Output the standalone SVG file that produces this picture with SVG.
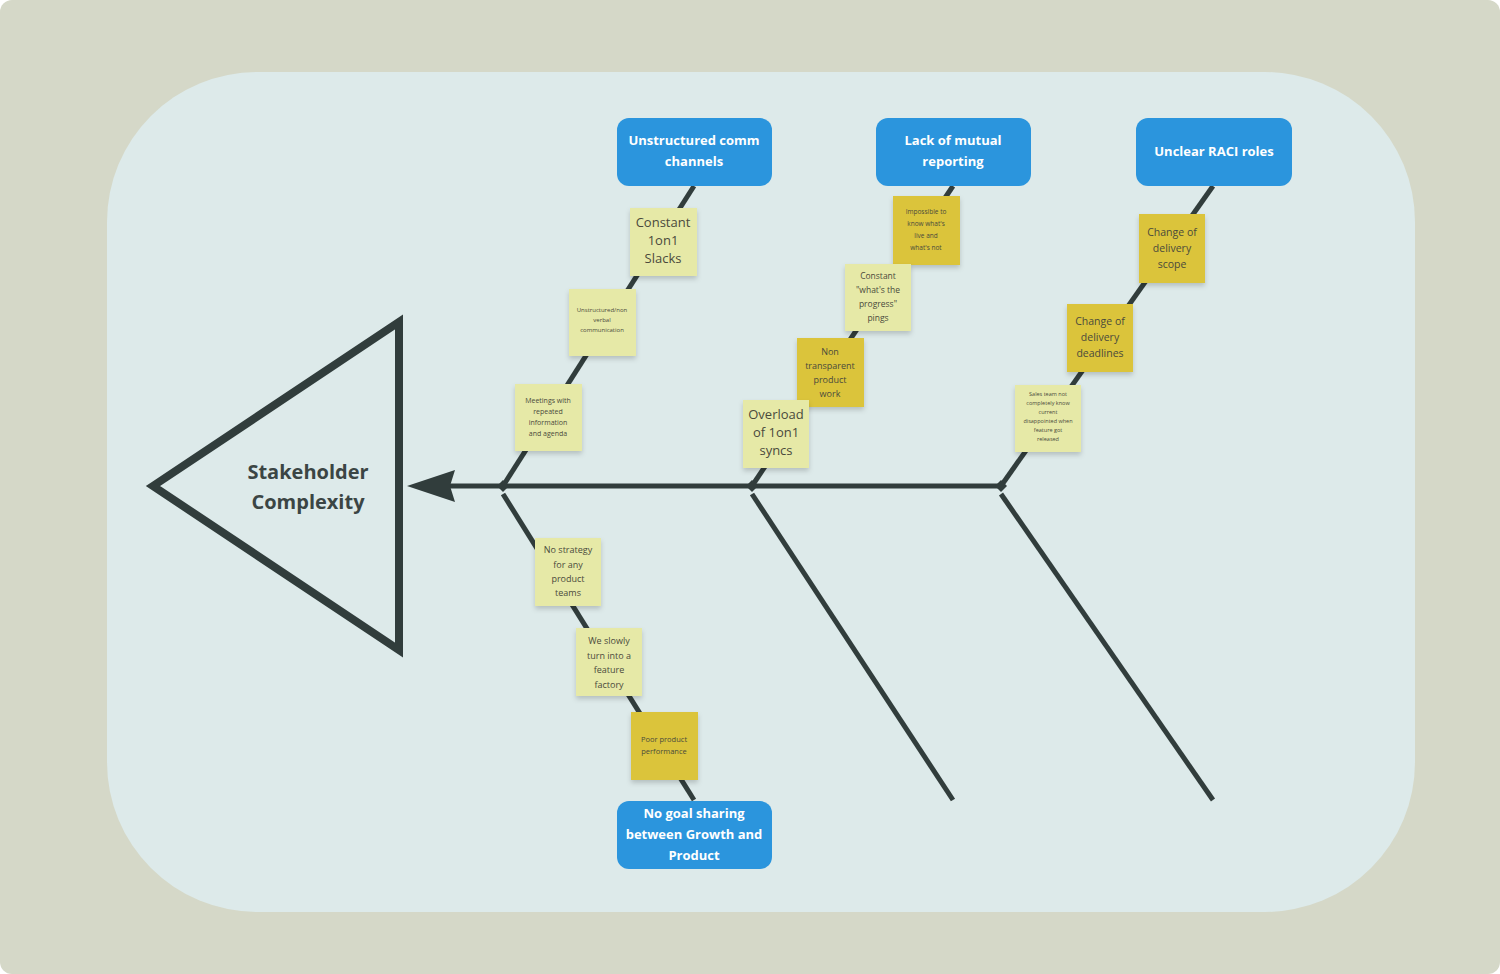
<svg xmlns="http://www.w3.org/2000/svg" width="1500" height="974" viewBox="0 0 1500 974">
<defs>
<filter id="sh" x="-20%" y="-20%" width="140%" height="150%">
<feDropShadow dx="0" dy="3" stdDeviation="2.5" flood-color="#000" flood-opacity="0.18"/>
</filter>
<style>
.bone{stroke:#313d3c;stroke-width:5;fill:none;stroke-linecap:butt}
.cause{fill:#2b95dd}
.ct{fill:#ffffff;font-family:"Open Sans","Liberation Sans",sans-serif;font-weight:bold;font-size:13px;text-anchor:middle;dominant-baseline:central}
.pale{fill:#e6e9a7}
.dark{fill:#dbc43b}
.nt{fill:#4a4a3c;font-family:"Open Sans","Liberation Sans",sans-serif;text-anchor:middle;dominant-baseline:central}
.hd{fill:#3b4544;font-family:"Open Sans","Liberation Sans",sans-serif;font-weight:bold;font-size:20px;text-anchor:middle;dominant-baseline:central}
</style>
</defs>
<rect x="0" y="0" width="1500" height="974" rx="12" fill="#d5d8c8"/>
<rect x="107" y="72" width="1308" height="840" rx="150" fill="#ddeaea"/>

<g id="head">
<polygon points="153,486 399,322 399,650" fill="none" stroke="#313d3c" stroke-width="8" stroke-linejoin="miter"/>
<text class="hd" x="308" y="471">Stakeholder</text>
<text class="hd" x="308" y="501">Complexity</text>
</g>

<g id="connectors">
<line class="bone" x1="450" y1="486" x2="1001" y2="486"/>
<polygon points="407,486 455,470 450,486 455,502" fill="#313d3c"/>
<line class="bone" x1="503" y1="486" x2="694" y2="186"/>
<line class="bone" x1="752" y1="486" x2="953" y2="186"/>
<line class="bone" x1="1001" y1="486" x2="1213" y2="186"/>
<line class="bone" x1="503" y1="494" x2="694" y2="800"/>
<line class="bone" x1="752" y1="494" x2="953" y2="800"/>
<line class="bone" x1="1001" y1="494" x2="1213" y2="800"/>
<polygon points="503,480 509,486 503,492 497,486" fill="#313d3c"/>
<polygon points="752,480 758,486 752,492 746,486" fill="#313d3c"/>
<polygon points="1001,480 1007,486 1001,492 995,486" fill="#313d3c"/>
</g>

<g id="cause-unstructured">
<rect class="cause" x="617" y="118" width="155" height="68" rx="12"/>
<text class="ct" x="694" y="140">Unstructured comm</text>
<text class="ct" x="694" y="161">channels</text>
</g>
<g id="cause-reporting">
<rect class="cause" x="876" y="118" width="155" height="68" rx="12"/>
<text class="ct" x="953" y="140">Lack of mutual</text>
<text class="ct" x="953" y="161">reporting</text>
</g>
<g id="cause-raci">
<rect class="cause" x="1136" y="118" width="156" height="68" rx="12"/>
<text class="ct" x="1214" y="151">Unclear RACI roles</text>
</g>
<g id="cause-goals">
<rect class="cause" x="617" y="801" width="155" height="68" rx="12"/>
<text class="ct" x="694" y="813">No goal sharing</text>
<text class="ct" x="694" y="834">between Growth and</text>
<text class="ct" x="694" y="855">Product</text>
</g>

<g id="note-slacks">
<rect class="pale" x="630" y="208" width="67" height="68" filter="url(#sh)"/>
<text class="nt" font-size="13" x="663" y="222">Constant</text>
<text class="nt" font-size="13" x="663" y="240">1on1</text>
<text class="nt" font-size="13" x="663" y="258">Slacks</text>
</g>
<g id="note-verbal">
<rect class="pale" x="569" y="289" width="67" height="67" filter="url(#sh)"/>
<text class="nt" font-size="6" x="602" y="310">Unstructured/non</text>
<text class="nt" font-size="6" x="602" y="320">verbal</text>
<text class="nt" font-size="6" x="602" y="330">communication</text>
</g>
<g id="note-meetings">
<rect class="pale" x="515" y="384" width="67" height="67" filter="url(#sh)"/>
<text class="nt" font-size="7" x="548" y="400">Meetings with</text>
<text class="nt" font-size="7" x="548" y="411">repeated</text>
<text class="nt" font-size="7" x="548" y="422">information</text>
<text class="nt" font-size="7" x="548" y="433">and agenda</text>
</g>
<g id="note-impossible">
<rect class="dark" x="893" y="196" width="67" height="69" filter="url(#sh)"/>
<text class="nt" font-size="6.5" x="926" y="211">Impossible to</text>
<text class="nt" font-size="6.5" x="926" y="223">know what's</text>
<text class="nt" font-size="6.5" x="926" y="235">live and</text>
<text class="nt" font-size="6.5" x="926" y="247">what's not</text>
</g>
<g id="note-pings">
<rect class="pale" x="845" y="264" width="66" height="67" filter="url(#sh)"/>
<text class="nt" font-size="8.5" x="878" y="275">Constant</text>
<text class="nt" font-size="8.5" x="878" y="289">"what's the</text>
<text class="nt" font-size="8.5" x="878" y="303">progress"</text>
<text class="nt" font-size="8.5" x="878" y="317">pings</text>
</g>
<g id="note-nontransparent">
<rect class="dark" x="797" y="338" width="67" height="69" filter="url(#sh)"/>
<text class="nt" font-size="9" x="830" y="351">Non</text>
<text class="nt" font-size="9" x="830" y="365">transparent</text>
<text class="nt" font-size="9" x="830" y="379">product</text>
<text class="nt" font-size="9" x="830" y="393">work</text>
</g>
<g id="note-syncs">
<rect class="pale" x="743" y="400" width="66" height="68" filter="url(#sh)"/>
<text class="nt" font-size="13" x="776" y="414">Overload</text>
<text class="nt" font-size="13" x="776" y="432">of 1on1</text>
<text class="nt" font-size="13" x="776" y="450">syncs</text>
</g>
<g id="note-scope">
<rect class="dark" x="1139" y="214" width="66" height="69" filter="url(#sh)"/>
<text class="nt" font-size="10.5" x="1172" y="232">Change of</text>
<text class="nt" font-size="10.5" x="1172" y="248">delivery</text>
<text class="nt" font-size="10.5" x="1172" y="264">scope</text>
</g>
<g id="note-deadlines">
<rect class="dark" x="1067" y="304" width="66" height="68" filter="url(#sh)"/>
<text class="nt" font-size="10.5" x="1100" y="321">Change of</text>
<text class="nt" font-size="10.5" x="1100" y="337">delivery</text>
<text class="nt" font-size="10.5" x="1100" y="353">deadlines</text>
</g>
<g id="note-sales">
<rect class="pale" x="1015" y="385" width="66" height="67" filter="url(#sh)"/>
<text class="nt" font-size="5.5" x="1048" y="394">Sales team not</text>
<text class="nt" font-size="5.5" x="1048" y="403">completely know</text>
<text class="nt" font-size="5.5" x="1048" y="412">current</text>
<text class="nt" font-size="5.5" x="1048" y="421">disappointed when</text>
<text class="nt" font-size="5.5" x="1048" y="430">feature got</text>
<text class="nt" font-size="5.5" x="1048" y="439">released</text>
</g>
<g id="note-strategy">
<rect class="pale" x="535" y="538" width="66" height="68" filter="url(#sh)"/>
<text class="nt" font-size="9" x="568" y="549">No strategy</text>
<text class="nt" font-size="9" x="568" y="564">for any</text>
<text class="nt" font-size="9" x="568" y="578">product</text>
<text class="nt" font-size="9" x="568" y="592">teams</text>
</g>
<g id="note-factory">
<rect class="pale" x="576" y="628" width="66" height="68" filter="url(#sh)"/>
<text class="nt" font-size="9" x="609" y="640">We slowly</text>
<text class="nt" font-size="9" x="609" y="655">turn into a</text>
<text class="nt" font-size="9" x="609" y="669">feature</text>
<text class="nt" font-size="9" x="609" y="684">factory</text>
</g>
<g id="note-performance">
<rect class="dark" x="631" y="712" width="67" height="68" filter="url(#sh)"/>
<text class="nt" font-size="7.5" x="664" y="739">Poor product</text>
<text class="nt" font-size="7.5" x="664" y="751">performance</text>
</g>
</svg>
